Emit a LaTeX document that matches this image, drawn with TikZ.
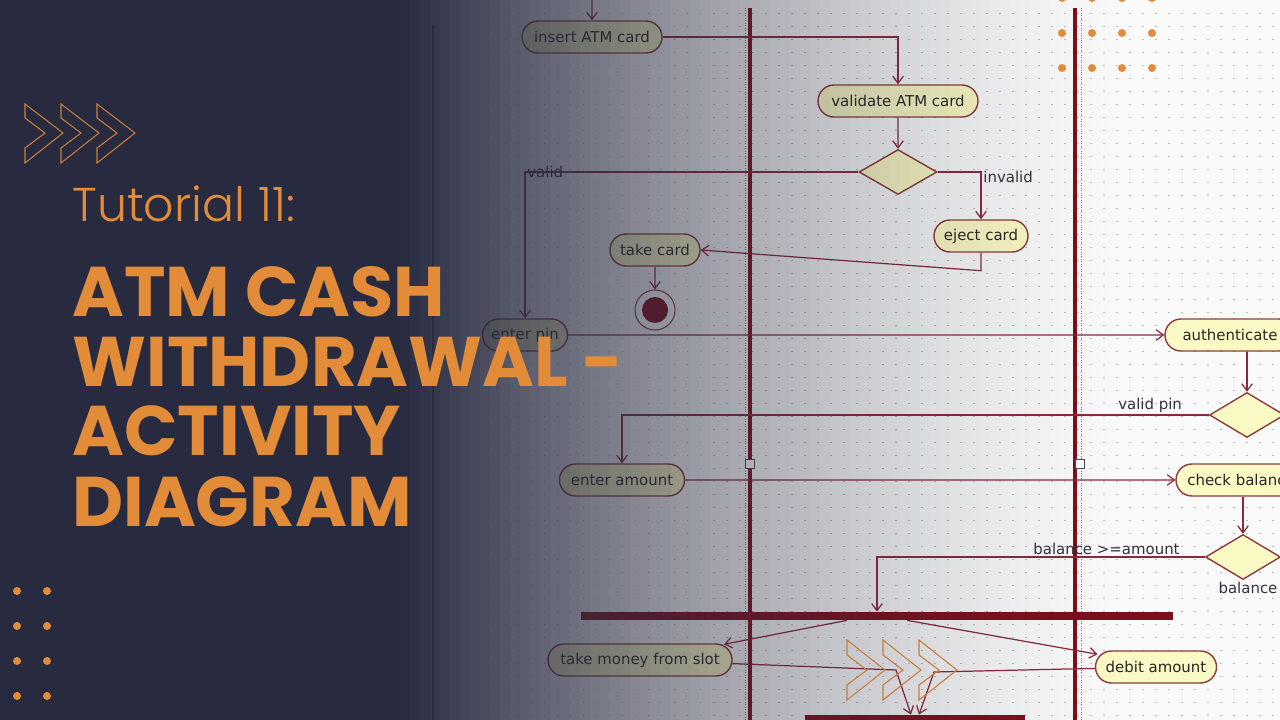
\documentclass[tikz,border=0pt]{standalone}
\usepackage{fontspec}
\usepackage{xcolor}
\usepackage{tikz}
\usetikzlibrary{shapes.misc,shapes.geometric,arrows.meta,calc}
\newfontfamily\uifont{DejaVu Sans}
\newfontfamily\titlefont{Poppins}
\newfontfamily\thinfont{Poppins Light}
\definecolor{navy}{RGB}{40,43,64}
\definecolor{titleorange}{RGB}{226,140,58}
\definecolor{lanered}{RGB}{125,14,28}
\definecolor{flowred}{RGB}{140,40,60}
\definecolor{pillfill}{RGB}{252,250,196}
\definecolor{pillline}{RGB}{140,60,60}
\definecolor{gridgrey}{RGB}{185,185,192}
\definecolor{labelgrey}{RGB}{50,50,60}

\begin{document}
\begin{tikzpicture}[x=0.2mm, y=-0.2mm,
	actbox/.style={rounded rectangle, draw=pillline, fill=pillfill, line width=0.8pt, font=\uifont\fontsize{8.5}{10}\selectfont, text=black!85, minimum height=6.4mm, inner xsep=1mm, inner ysep=0},
	decision/.style={diamond, draw=pillline, fill=pillfill, line width=0.8pt, minimum width=15.6mm, minimum height=9mm, inner sep=0},
	bar/.style={rectangle, fill=lanered, minimum height=1.6mm, inner sep=0},
	lbl/.style={font=\uifont\fontsize{8.5}{10}\selectfont, text=labelgrey, inner sep=1pt},
	flow/.style={draw=flowred, line width=0.7pt, -{Straight Barb[length=4pt,width=6pt]}},
	chev/.style={draw=titleorange!85!navy, line width=0.6pt, line join=miter},
	titletext/.style={anchor=base west, inner sep=0, text=titleorange, font=\titlefont\bfseries\fontsize{40}{40}\selectfont}
]
\useasboundingbox (0,0) rectangle (1280,720);
\clip (0,0) rectangle (1280,720);
\fill[white!96!gray] (0,0) rectangle (1280,720);
\foreach \y in {13,26,...,715}
	\draw[gridgrey, dash pattern=on 0.8pt off 6.6pt] (440,\y) -- (1280,\y);

\draw[black!70, line width=0.6pt] (433,25) -- (433,720);
\draw[gray, densely dotted] (745,8) -- (745,720);
\draw[gray, densely dotted] (1081,8) -- (1081,720);
\draw[lanered, line width=2.4pt] (750,8) -- (750,720);
\draw[lanered, line width=2.4pt] (1075,8) -- (1075,720);
\draw[black!70, fill=white, line width=0.5pt] (745,459) rectangle (754,468);
\draw[black!70, fill=white, line width=0.5pt] (1075,459) rectangle (1084,468);

\node[actbox, minimum width=30mm] (insert) at (592,37) {insert ATM card};
\node[actbox, minimum width=34mm] (validate) at (898,101) {validate ATM card};
\node[decision] (cardok) at (898,172) {};
\node[actbox, minimum width=20.8mm] (eject) at (981,236) {eject card};
\node[actbox, minimum width=20mm] (takecard) at (655,250) {take card};
\node[circle, draw=pillline, fill=white, minimum size=8mm, inner sep=0, line width=0.6pt] (final) at (655,310) {};
\node[circle, fill=lanered, minimum size=5.2mm, inner sep=0] (finaldot) at (final) {};
\node[actbox, minimum width=19mm] (enterpin) at (525,335) {enter pin};
\node[actbox, minimum width=28mm] (auth) at (1230,335) {authenticate};
\node[decision, minimum width=15mm] (pinok) at (1247,415) {};
\node[actbox, minimum width=27mm] (amount) at (622,480) {enter amount};
\node[actbox, minimum width=28mm] (balance) at (1241,480) {check balance};
\node[decision, minimum width=15mm] (balok) at (1243,557) {};
\node[lbl, anchor=north] (lblless) at ([xshift=1mm]balok.south) {balance};
\node[bar, minimum width=118.4mm] (fork) at (877,616) {};
\node[actbox, minimum width=38.8mm] (money) at (640,660) {take money from slot};
\node[actbox, minimum width=26.2mm] (debit) at (1156,667) {debit amount};
\node[bar, minimum width=44mm] (join) at (915,719) {};

\coordinate (start) at (592,-5);
\coordinate (bendl) at (896,670);
\coordinate (bendr) at (934,672);

\draw[flow] (start) -- (insert);
\draw[flow] (insert) -| (validate);
\draw[flow] (validate) -- (cardok);
\draw[flow] (cardok) -| (enterpin) node[lbl, pos=0.5, anchor=west] (lblvalid) {valid};
\draw[flow] (cardok) -| (eject) node[lbl, pos=0.5, anchor=west, yshift=-1mm] (lblinvalid) {invalid};
\draw[flow] (eject.south) -- ++(0,18) -- (takecard.east);
\draw[flow] (takecard) -- (final);
\draw[flow] (enterpin) -- (auth);
\draw[flow] (auth.south -| pinok) -- (pinok);
\draw[flow] (pinok) -| (amount) node[lbl, pos=0.05, anchor=south] (lblpin) {valid pin};
\draw[flow] (amount) -- (balance);
\draw[flow] (balance.south -| balok) -- (balok);
\draw[flow] (balok) -| (fork) node[lbl, pos=0.15, anchor=south] (lblenough) {balance >=amount};
\draw[flow] ($(fork.south)+(-30,0)$) -- ($(money.north east)+(8,1)$);
\draw[flow] ($(fork.south)+(30,0)$) -- ($(debit.north west)+(-14,4)$);
\draw[flow] (money) -- (bendl) -- ($(join.north)+(-4,0)$);
\draw[flow] (debit) -- (bendr) -- ($(join.north)+(4,0)$);

\foreach \x in {400,410,...,1120} {
	\pgfmathsetmacro\op{pow((1125-\x)/730,1.5)}
	\fill[navy, fill opacity=\op] (\x,0) rectangle (\x+10,720);
}
\fill[navy] (0,0) rectangle (400,720);

\node[anchor=base west, inner sep=0, text=titleorange, font=\thinfont\fontsize{27}{27}\selectfont] (subtitle) at (72,222) {Tutorial 11:};
\node[titletext] (title1) at (72,317) {ATM CASH};
\node[titletext] (title2) at (72,386) {WITHDRAWAL -};
\node[titletext] (title3) at (72,455) {ACTIVITY};
\node[titletext] (title4) at (72,526) {DIAGRAM};

\foreach \dx in {0,36,72}
	\draw[chev] (25+\dx,104) -- (63+\dx,133) -- (25+\dx,163) -- (25+\dx,148) -- (45+\dx,133) -- (25+\dx,118) -- cycle;
\foreach \dx in {0,36,72}
	\draw[chev] (847+\dx,640) -- (885+\dx,670) -- (847+\dx,700) -- (847+\dx,685) -- (867+\dx,670) -- (847+\dx,655) -- cycle;
\foreach \x in {1062,1092,1122,1152}
	\foreach \y in {-2,33,68}
		\fill[titleorange] (\x,\y) circle (0.8mm);
\foreach \x in {17,47}
	\foreach \y in {591,626,661,696}
		\fill[titleorange] (\x,\y) circle (0.8mm);
\end{tikzpicture}
\end{document}
